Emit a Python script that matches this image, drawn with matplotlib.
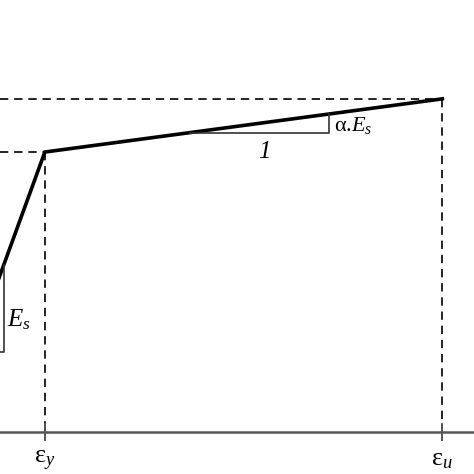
import matplotlib
matplotlib.use('Agg')
import matplotlib.pyplot as plt

# diagrama bilineal del acero (unidades normalizadas: eps/eps_y, sigma/f_y)
strain = [0.0, 1.0, 4.9]          # 0, eps_y, eps_u
stress = [0.0, 1.0, 1.19]         # 0, f_y, f_u
strain_labels = ['ε$_y$', 'ε$_u$']

# triangulos de pendiente
es_tri_x = [0.598, 0.598, 0.286]
es_tri_y = [0.598, 0.286, 0.286]
alpha_tri_x = [2.42, 3.79, 3.79]
plt.rcParams['font.family'] = ['Liberation Serif', 'DejaVu Serif']
plt.rcParams['mathtext.fontset'] = 'custom'
plt.rcParams['mathtext.rm'] = 'Liberation Serif'
plt.rcParams['mathtext.it'] = 'Liberation Serif:italic'

XMIN, XMAX = 0.56, 5.21

fig = plt.figure(figsize=(4.74, 4.74), dpi=100)
ax = fig.add_axes([0, 0, 1, 1])
ax.set_xlim(XMIN, XMAX)
ax.set_ylim(-0.15, 1.543)
ax.axis('off')

# eje de deformaciones
ax.axhline(0, color='#555555', lw=1.8)

# curva bilineal
ax.plot(strain, stress, color='black', lw=2.6, solid_joinstyle='miter')

# lineas de referencia discontinuas
dash = (0, (5, 3.5))
for e, s in zip(strain[1:], stress[1:]):
    ax.plot([XMIN, e], [s, s], color='black', lw=1.2, linestyle=dash)
    ax.plot([e, e], [s, 0], color='black', lw=1.2, linestyle=dash)
    ax.plot([e, e], [-0.03, 0.03], color='#555555', lw=1.4)

for e, lab in zip(strain[1:], strain_labels):
    ax.text(e, -0.06, lab, ha='center', va='top', fontsize=19)

# triangulo E_s
ax.plot(es_tri_x, es_tri_y, color='#333333', lw=1.2)
ax.text(es_tri_x[0] + 0.035, 0.40, '$E_s$', ha='left', va='center', fontsize=18)

# triangulo alpha.E_s
slope = (stress[2] - stress[1]) / (strain[2] - strain[1])
y0 = stress[1] + (alpha_tri_x[0] - strain[1]) * slope
y1 = stress[1] + (alpha_tri_x[1] - strain[1]) * slope
ax.plot(alpha_tri_x, [y0, y0, y1], color='#333333', lw=1.2)
ax.text(alpha_tri_x[1] + 0.05, (y0 + y1) / 2 - 0.008, 'α.$E_s$', ha='left', va='center', fontsize=16)
ax.text((alpha_tri_x[0] + alpha_tri_x[1]) / 2 + 0.05, y0 - 0.03, '1', ha='center', va='top',
        fontsize=18, style='italic')

fig.savefig('out.png', dpi=100, facecolor='white')
